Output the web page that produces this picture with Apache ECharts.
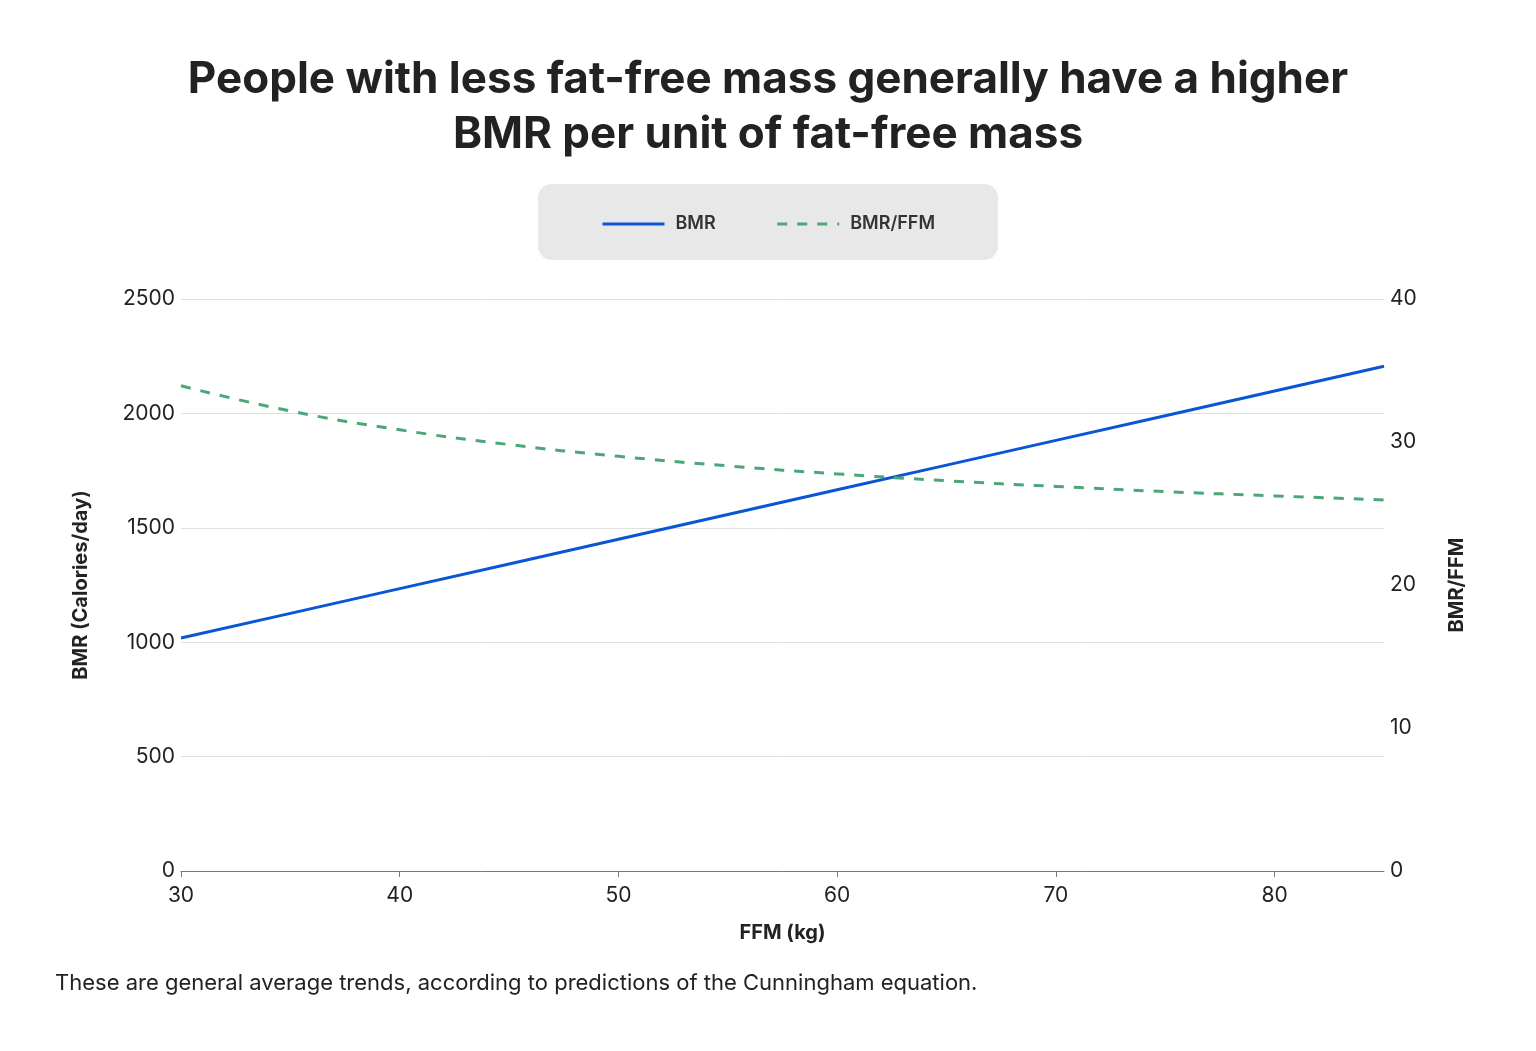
<!DOCTYPE html>
<html><head><meta charset="utf-8">
<script src="https://cdn.jsdelivr.net/npm/echarts@6/dist/echarts.min.js"></script>
<style>html,body{margin:0;padding:0;background:#fff}#c{width:1536px;height:1051px}</style>
</head><body><div id="c"></div>
<script>
const ffm = [30,35,40,45,50,55,60,65,70,75,80,85];
const bmr = [1018,1126,1234,1342,1450,1558,1666,1774,1882,1990,2098,2206];
const bmrPerFfm = [33.93,32.17,30.85,29.82,29.0,28.33,27.77,27.29,26.89,26.53,26.23,25.95];
const xTicks = [30,40,50,60,70,80];
const FONT = 'Inter, "Noto Sans", sans-serif';
const chart = echarts.init(document.getElementById('c'));
chart.setOption({
  backgroundColor:'#fff',
  animation:false,
  textStyle:{fontFamily:FONT},
  title:{
    text:'People with less fat-free mass generally have a higher\nBMR per unit of fat-free mass',
    left:'center', top:47,
    textStyle:{fontSize:44,fontWeight:'bold',color:'#222',lineHeight:55,fontFamily:FONT}
  },
  graphic:[
    {type:'rect',shape:{x:538,y:184,width:460,height:76,r:14},style:{fill:'#e8e8e8'},z:-1},
    {type:'text',left:55,top:972,style:{text:'These are general average trends, according to predictions of the Cunningham equation.',fontSize:22,fill:'#222',fontFamily:FONT}}
  ],
  legend:{
    top:210, left:'center', itemWidth:62, itemHeight:14, itemGap:60,
    itemStyle:{opacity:0},
    lineStyle:{width:3,color:'inherit',type:'inherit'},
    textStyle:{fontSize:18,fontWeight:600,color:'#333',padding:[0,0,0,6]},
    data:['BMR','BMR/FFM']
  },
  grid:{left:181,right:152,top:299,bottom:180},
  xAxis:{
    type:'value', min:30, max:85, interval:10,
    name:'FFM (kg)', nameLocation:'middle', nameGap:52,
    nameTextStyle:{fontSize:20,fontWeight:'bold',color:'#222'},
    axisLine:{lineStyle:{color:'#777'}},
    axisTick:{show:true,length:6,lineStyle:{color:'#777'},customValues:xTicks},
    axisLabel:{fontSize:21,color:'#222',margin:14,customValues:xTicks},
    splitLine:{show:false}
  },
  yAxis:[
    {type:'value',min:0,max:2500,interval:500,
     name:'BMR (Calories/day)',nameLocation:'middle',nameGap:90,
     nameTextStyle:{fontSize:20,fontWeight:'bold',color:'#222'},
     axisLine:{show:false},axisTick:{show:false},
     axisLabel:{fontSize:21,color:'#222',margin:6,formatter:v=>String(v)},
     splitLine:{lineStyle:{color:'#e0e0e0'}}},
    {type:'value',min:0,max:40,interval:10,position:'right',
     name:'BMR/FFM',nameLocation:'middle',nameGap:63,
     nameTextStyle:{fontSize:20,fontWeight:'bold',color:'#222'},
     axisLine:{show:false},axisTick:{show:false},
     axisLabel:{fontSize:21,color:'#222',margin:6,formatter:v=>String(v)},
     splitLine:{show:false}}
  ],
  series:[
    {name:'BMR',type:'line',yAxisIndex:0,data:ffm.map((x,i)=>[x,bmr[i]]),
     showSymbol:false,symbol:'none',lineStyle:{color:'#0a55d6',width:3},itemStyle:{color:'#0a55d6'}},
    {name:'BMR/FFM',type:'line',yAxisIndex:1,smooth:true,data:ffm.map((x,i)=>[x,bmrPerFfm[i]]),
     showSymbol:false,symbol:'none',lineStyle:{color:'#4aa876',width:3,type:[10,10]},itemStyle:{color:'#4aa876'}}
  ]
});
</script></body></html>
